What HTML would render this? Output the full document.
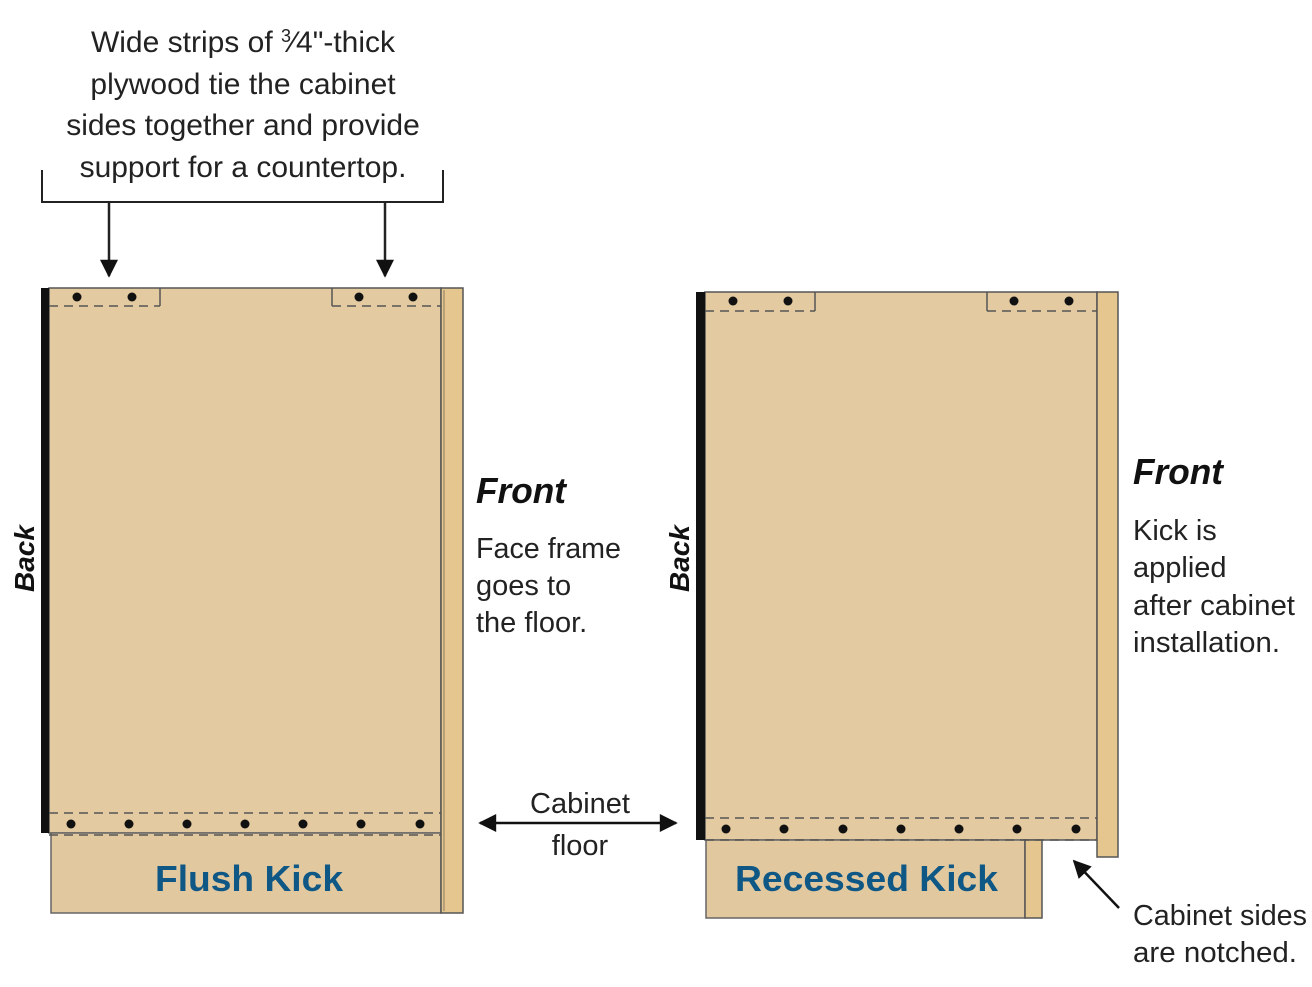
<!DOCTYPE html>
<html><head><meta charset="utf-8"><style>
html,body{margin:0;padding:0;background:#fff;}
svg{display:block;font-family:"Liberation Sans",sans-serif;}
</style></head><body>
<svg width="1312" height="987" viewBox="0 0 1312 987" xmlns="http://www.w3.org/2000/svg">
<defs>
<marker id="ab" viewBox="0 0 10 10" refX="9" refY="5" markerWidth="22" markerHeight="18" orient="auto-start-reverse" markerUnits="userSpaceOnUse"><path d="M0,0 L10,5 L0,10 z" fill="#111"/></marker>
</defs>
<g font-size="30" fill="#222" text-anchor="middle">
<text x="243" y="52">Wide strips of <tspan font-size="18" dy="-10">3</tspan><tspan dy="10">⁄4"-thick</tspan></text>
<text x="243" y="94">plywood tie the cabinet</text>
<text x="243" y="135">sides together and provide</text>
<text x="243" y="177">support for a countertop.</text>
</g>
<path d="M42,170 V202 H443 V170" fill="none" stroke="#222" stroke-width="2"/>
<line x1="109" y1="202" x2="109" y2="276" stroke="#222" stroke-width="2.5" marker-end="url(#ab)"/>
<line x1="385" y1="202" x2="385" y2="276" stroke="#222" stroke-width="2.5" marker-end="url(#ab)"/>

<!-- LEFT CABINET -->
<rect x="49" y="288" width="392" height="545" fill="#e4caa0" stroke="#555" stroke-width="1.5"/>
<rect x="51" y="833" width="390" height="80" fill="#e2c89e" stroke="#666" stroke-width="1.5"/>
<rect x="441" y="288" width="22" height="625" fill="#e5c68f" stroke="#555" stroke-width="1.5"/>
<line x1="444" y1="290" x2="444" y2="911" stroke="#8a7a60" stroke-width="1"/>
<rect x="41" y="288" width="8" height="545" fill="#111"/>
<path d="M160,288 V306 M332,288 V306" stroke="#555" stroke-width="1.5"/>
<path d="M49,306 H160 M332,306 H441" stroke="#555" stroke-width="1.5" stroke-dasharray="9,6"/>
<path d="M49,813 H441 M49,835 H441" stroke="#555" stroke-width="1.5" stroke-dasharray="9,6"/>
<g fill="#111">
<circle cx="77" cy="297" r="4.5"/><circle cx="132" cy="297" r="4.5"/><circle cx="359" cy="297" r="4.5"/><circle cx="413" cy="297" r="4.5"/>
<circle cx="71" cy="824" r="4.5"/><circle cx="129" cy="824" r="4.5"/><circle cx="187" cy="824" r="4.5"/><circle cx="245" cy="824" r="4.5"/><circle cx="303" cy="824" r="4.5"/><circle cx="361" cy="824" r="4.5"/><circle cx="420" cy="824" r="4.5"/>
</g>
<text x="155" y="891" font-size="36" font-weight="bold" fill="#0f5886" textLength="188" lengthAdjust="spacingAndGlyphs">Flush Kick</text>
<text transform="translate(34,592) rotate(-90)" font-size="28" font-weight="bold" font-style="italic" fill="#111">Back</text>

<text x="476" y="503" font-size="36" font-weight="bold" font-style="italic" fill="#111" textLength="90" lengthAdjust="spacingAndGlyphs">Front</text>
<g font-size="29" fill="#222">
<text x="476" y="558" textLength="145" lengthAdjust="spacingAndGlyphs">Face frame</text>
<text x="476" y="595">goes to</text>
<text x="476" y="632">the floor.</text>
</g>

<g font-size="29" fill="#222" text-anchor="middle">
<text x="580" y="813">Cabinet</text>
<text x="580" y="855">floor</text>
</g>
<line x1="480" y1="823" x2="676" y2="823" stroke="#111" stroke-width="2.5" marker-start="url(#ab)" marker-end="url(#ab)"/>

<!-- RIGHT CABINET -->
<rect x="705" y="292" width="392" height="548" fill="#e4caa0" stroke="#555" stroke-width="1.5"/>
<rect x="706" y="840" width="319" height="78" fill="#e2c89e" stroke="#666" stroke-width="1.5"/>
<rect x="1025" y="840" width="17" height="78" fill="#e5c68f" stroke="#555" stroke-width="1.5"/>
<rect x="1097" y="292" width="21" height="565" fill="#e5c68f" stroke="#555" stroke-width="1.5"/>
<rect x="696" y="292" width="9" height="548" fill="#111"/>
<path d="M815,292 V311 M987,292 V311" stroke="#555" stroke-width="1.5"/>
<path d="M705,311 H815 M987,311 H1097" stroke="#555" stroke-width="1.5" stroke-dasharray="9,6"/>
<path d="M705,818 H1097 M705,840 H1097" stroke="#555" stroke-width="1.5" stroke-dasharray="9,6"/>
<g fill="#111">
<circle cx="733" cy="301" r="4.5"/><circle cx="788" cy="301" r="4.5"/><circle cx="1014" cy="301" r="4.5"/><circle cx="1069" cy="301" r="4.5"/>
<circle cx="726" cy="829" r="4.5"/><circle cx="784" cy="829" r="4.5"/><circle cx="843" cy="829" r="4.5"/><circle cx="901" cy="829" r="4.5"/><circle cx="959" cy="829" r="4.5"/><circle cx="1017" cy="829" r="4.5"/><circle cx="1076" cy="829" r="4.5"/>
</g>
<text x="735" y="891" font-size="36" font-weight="bold" fill="#0f5886" textLength="263" lengthAdjust="spacingAndGlyphs">Recessed Kick</text>
<text transform="translate(689,592) rotate(-90)" font-size="28" font-weight="bold" font-style="italic" fill="#111">Back</text>

<text x="1133" y="484" font-size="36" font-weight="bold" font-style="italic" fill="#111" textLength="90" lengthAdjust="spacingAndGlyphs">Front</text>
<g font-size="29" fill="#222">
<text x="1133" y="540">Kick is</text>
<text x="1133" y="577">applied</text>
<text x="1133" y="615" textLength="162" lengthAdjust="spacingAndGlyphs">after cabinet</text>
<text x="1133" y="652" textLength="147" lengthAdjust="spacingAndGlyphs">installation.</text>
<text x="1133" y="925" textLength="174" lengthAdjust="spacingAndGlyphs">Cabinet sides</text>
<text x="1133" y="962" textLength="164" lengthAdjust="spacingAndGlyphs">are notched.</text>
</g>
<line x1="1119" y1="908" x2="1074" y2="861" stroke="#111" stroke-width="2.5" marker-end="url(#ab)"/>
</svg>
</body></html>
